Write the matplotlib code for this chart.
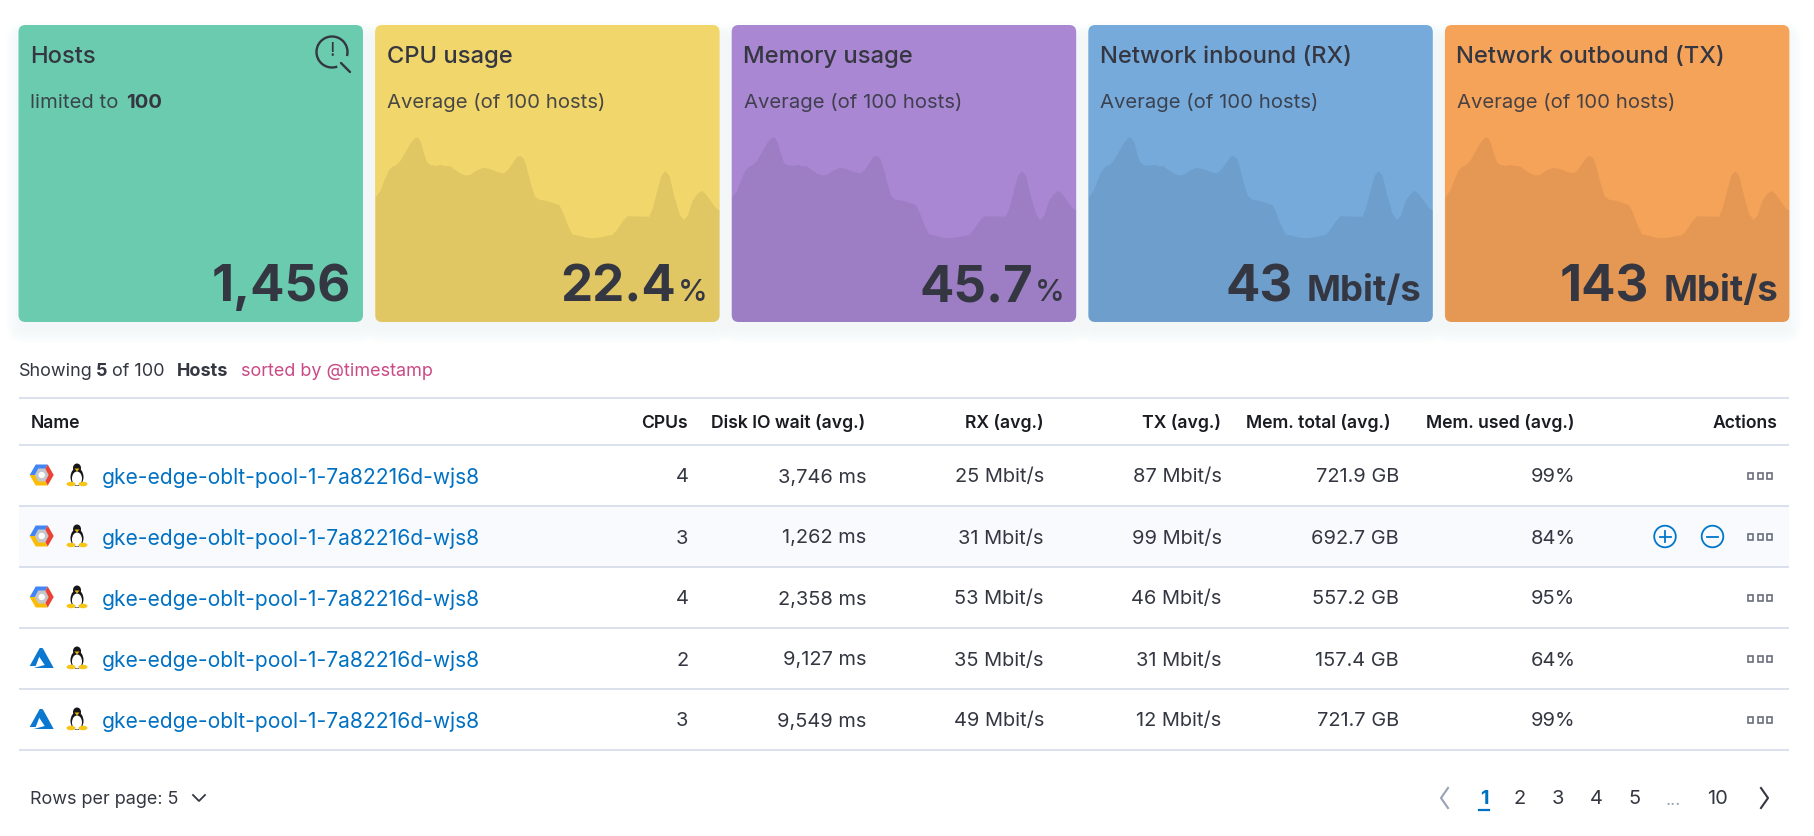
import matplotlib
matplotlib.use("Agg")
import matplotlib.pyplot as plt
from matplotlib.patches import FancyBboxPatch, Circle, Ellipse, Polygon, Arc, Rectangle

W, H = 1814, 836
TEXT = "#343741"
LINK = "#0071C2"
LINE = "#D7DEEA"
plt.rcParams["font.family"] = ["Inter", "DejaVu Sans"]

# tarjetas de arriba
CARD_TITLES = ["Hosts", "CPU usage", "Memory usage", "Network inbound (RX)", "Network outbound (TX)"]
CARD_SUBS = ["limited to", "Average (of 100 hosts)", "Average (of 100 hosts)",
             "Average (of 100 hosts)", "Average (of 100 hosts)"]
CARD_VALUES = ["1,456", "22.4", "45.7", "43", "143"]
CARD_UNITS = ["", "%", "%", "Mbit/s", "Mbit/s"]
CARD_COLORS = ["#6ACBAF", "#F1D66B", "#A987D2", "#76AADB", "#F6A35A"]

# area de fondo, la misma en las cuatro tarjetas (% del ancho y alto de la tarjeta)
SPARK_X = [0, 1.4, 2.5, 3.8, 4.8, 6, 7.2, 8.6, 10.1, 11.4, 12.3, 13.2, 14, 15, 16, 18, 19.8,
           21.7, 23.2, 24.6, 26.1, 27.5, 29.5, 31.4, 33.4, 35.3, 37.2, 38.4, 39.7, 41.1, 42.1,
           43.1, 44, 45, 46.2, 47.4, 49.9, 51.8, 53.3, 54.2, 55.7, 57.1, 59.1, 61.5, 63.4,
           65.9, 68.8, 70.2, 71.7, 73.1, 76, 79.4, 80.4, 81.9, 83, 84.1, 85.3, 86.7, 88.2,
           89.4, 90.6, 92, 93.5, 94.7, 95.9, 97.4, 98.8, 100]
SPARK_Y = [42.1, 44.3, 47.7, 51.1, 52.4, 53, 54.4, 57.2, 60.3, 62.1, 62.3, 60.6, 57.2, 53.9, 53,
           52.7, 52.7, 52.6, 51.3, 50.2, 49.5, 49.7, 51.3, 52.1, 51.6, 50.7, 50.2, 51.3, 53.5,
           55.8, 56.1, 55, 51.6, 47.1, 42.6, 41.4, 40.9, 40.1, 39.6, 37.6, 33.1, 29.7, 29.2,
           28.5, 28.4, 28.8, 29.5, 31.4, 34, 35.8, 35.7, 35.6, 38.2, 44.9, 49.4, 51, 49.4, 42.6,
           36.5, 34.5, 35.9, 41, 43.4, 44.3, 43.2, 40.7, 38.5, 37.6]

# tabla
COLUMNS = ["CPUs", "Disk IO wait (avg.)", "RX (avg.)", "TX (avg.)", "Mem. total (avg.)", "Mem. used (avg.)"]
HOST_NAME = "gke-edge-oblt-pool-1-7a82216d-wjs8"
CLOUDS = ["gcp", "gcp", "gcp", "azure", "azure"]
CPUS = ["4", "3", "4", "2", "3"]
DISK_WAIT = ["3,746 ms", "1,262 ms", "2,358 ms", "9,127 ms", "9,549 ms"]
RX = ["25 Mbit/s", "31 Mbit/s", "53 Mbit/s", "35 Mbit/s", "49 Mbit/s"]
TX = ["87 Mbit/s", "99 Mbit/s", "46 Mbit/s", "31 Mbit/s", "12 Mbit/s"]
MEM_TOTAL = ["721.9 GB", "692.7 GB", "557.2 GB", "157.4 GB", "721.7 GB"]
MEM_USED = ["99%", "84%", "95%", "64%", "99%"]
PAGES = ["2", "3", "4", "5"]


def px(size):
    return size * 72 / 100


fig = plt.figure(figsize=(W / 100, H / 100), dpi=100, facecolor="white")
ax = fig.add_axes([0, 0, 1, 1], zorder=0)
top = fig.add_axes([0, 0, 1, 1], zorder=2)
top.patch.set_alpha(0)
for a in (ax, top):
    a.set_xlim(0, W)
    a.set_ylim(H, 0)
    a.axis("off")


def dibujar_lupa(cx, cy):
    top.add_patch(Arc((cx, cy), 31, 31, theta1=70, theta2=15, color=TEXT, lw=1.7))
    top.plot([cx + 9, cx + 18], [cy + 11, cy + 20], color=TEXT, lw=1.7, solid_capstyle="round")
    top.text(cx, cy - 1, "!", fontsize=px(19), color=TEXT, ha="center", va="center")


def dibujar_gcp(cx, cy):
    # hexagono de colores con centro gris
    forma = [(-12, 0), (-6, -10.5), (6, -10.5), (12, 0), (6, 10.5), (-6, 10.5)]
    pts = [(cx + x, cy + y) for x, y in forma]
    c = (cx, cy)
    top.add_patch(Polygon([pts[0], pts[1], pts[2], c], fc="#4285F4", ec="none"))
    top.add_patch(Polygon([pts[2], pts[3], pts[4], c], fc="#EA4335", ec="none"))
    top.add_patch(Polygon([pts[4], pts[5], pts[0], c], fc="#FBBC05", ec="none"))
    inner = [(cx + x * 0.58, cy + y * 0.62) for x, y in forma]
    top.add_patch(Polygon(inner, fc="#C4C6C9", ec="none"))
    top.add_patch(Circle(c, 3.2, fc="white", ec="none"))


def dibujar_azure(cx, cy):
    blue = "#0A78D1"
    top.add_patch(Polygon([(cx - 12, cy + 8), (cx - 2, cy - 10), (cx + 1, cy - 10), (cx - 6, cy + 8)], fc=blue, ec="none"))
    top.add_patch(Polygon([(cx + 1, cy - 10), (cx + 12, cy + 10), (cx - 8, cy + 10), (cx + 3, cy + 7), (cx - 3, cy - 2)], fc=blue, ec="none"))


def dibujar_tux(cx, cy):
    top.add_patch(Ellipse((cx, cy + 2), 13, 18, fc="#16161A", ec="none"))
    top.add_patch(Ellipse((cx, cy - 7), 8, 9, fc="#16161A", ec="none"))
    top.add_patch(Ellipse((cx, cy + 3.5), 10, 14, fc="white", ec="none"))
    top.add_patch(Polygon([(cx - 2.5, cy - 6.5), (cx + 2.5, cy - 6.5), (cx, cy - 3.5)], fc="#F2B90F", ec="none"))
    top.add_patch(Ellipse((cx - 6, cy + 9), 9, 4.5, fc="#F5C518", ec="none"))
    top.add_patch(Ellipse((cx + 6, cy + 9), 9, 4.5, fc="#F5C518", ec="none"))


# --- tarjetas ---
CARD_W, CARD_TOP, CARD_BOTTOM = 344.5, 25, 322
renderer = fig.canvas.get_renderer()
lefts = [18.5 + i * 356.6 for i in range(5)]

# sombras primero, para que no manchen la tarjeta vecina
for x0 in lefts:
    for k in range(8):
        grow = k * 1.8
        ax.add_patch(FancyBboxPatch((x0 - grow, CARD_TOP + 9 - grow), CARD_W + 2 * grow,
                                    CARD_BOTTOM - CARD_TOP + 2 * grow,
                                    boxstyle=f"round,pad=0,rounding_size={7 + grow}",
                                    fc="#7A8498", ec="none", alpha=0.006))

for i, titulo in enumerate(CARD_TITLES):
    x0 = lefts[i]
    card = FancyBboxPatch((x0, CARD_TOP), CARD_W, CARD_BOTTOM - CARD_TOP,
                          boxstyle="round,pad=0,rounding_size=7", fc=CARD_COLORS[i], ec="none")
    ax.add_patch(card)

    if i > 0:
        sp = fig.add_axes([x0 / W, 1 - CARD_BOTTOM / H, CARD_W / W, (CARD_BOTTOM - CARD_TOP) / H], zorder=1)
        sp.patch.set_alpha(0)
        sp.set_xlim(0, 100)
        sp.set_ylim(0, 100)
        sp.axis("off")
        area = sp.fill_between(SPARK_X, 0, SPARK_Y, color="black", alpha=0.065, lw=0)
        area.set_clip_path(card)

    top.text(x0 + 11.5, 57, titulo, fontsize=px(23.8), color=TEXT, va="center", fontweight="medium")
    top.text(x0 + 12, 103, CARD_SUBS[i], fontsize=px(20.3), color=TEXT, va="center", alpha=0.9)
    if i == 0:
        top.text(126, 103, "100", fontsize=px(20.3), color=TEXT, va="center", fontweight="bold")

    right = x0 + CARD_W - 11.5
    base = 301
    if CARD_UNITS[i]:
        weight = "medium" if CARD_UNITS[i] == "%" else "bold"
        size = 30 if CARD_UNITS[i] == "%" else 36.5
        u = top.text(right, base, CARD_UNITS[i], fontsize=px(size), color=TEXT, ha="right", va="baseline", fontweight=weight)
        right = u.get_window_extent(renderer).x0 - (2 if CARD_UNITS[i] == "%" else 14)
    top.text(right, base, CARD_VALUES[i], fontsize=px(51), color=TEXT, ha="right", va="baseline", fontweight="bold")

dibujar_lupa(332, 52)

# --- linea de estado ---
y = 371.5
top.text(18.5, y, "Showing", fontsize=px(18), color=TEXT, va="center")
top.text(96, y, "5", fontsize=px(18), color=TEXT, va="center", fontweight="bold")
top.text(112, y, "of 100", fontsize=px(18), color=TEXT, va="center")
top.text(177, y, "Hosts", fontsize=px(18), color=TEXT, va="center", fontweight="bold")
top.text(241, y, "sorted by @timestamp", fontsize=px(18), color="#CB4A86", va="center")

# --- tabla ---
X_LEFT, X_RIGHT = 18.5, 1789
LINES_Y = [398, 444.5, 505.5, 566.5, 627.5, 688.5, 749.5]
ROWS_Y = [475.5, 536.5, 597.5, 658.5, 719.5]
COL_HEAD_X = [687.5, 865.5, 1044, 1221.5, 1391, 1574]
COL_VAL_X = [688.5, 866.5, 1044, 1221.5, 1399, 1575.5]
ax.add_patch(Rectangle((X_LEFT, LINES_Y[2]), X_RIGHT - X_LEFT, LINES_Y[3] - LINES_Y[2], fc="#F8FAFD", ec="none"))
for ly in LINES_Y:
    ax.plot([X_LEFT, X_RIGHT], [ly, ly], color=LINE, lw=1.3, solid_capstyle="butt")

head_y = 423
top.text(30.5, head_y, "Name", fontsize=px(17.6), color="#1A1C21", va="center", fontweight="semibold")
for nombre, hx in zip(COLUMNS, COL_HEAD_X):
    top.text(hx, head_y, nombre, fontsize=px(17.6), color="#1A1C21", va="center", ha="right", fontweight="semibold")
top.text(1777, head_y, "Actions", fontsize=px(17.6), color="#1A1C21", va="center", ha="right", fontweight="semibold")

columnas = [CPUS, DISK_WAIT, RX, TX, MEM_TOTAL, MEM_USED]
for r, ry in enumerate(ROWS_Y):
    if CLOUDS[r] == "gcp":
        dibujar_gcp(41.7, ry - 0.5)
    else:
        dibujar_azure(41.7, ry - 0.5)
    dibujar_tux(77, ry - 0.5)
    top.text(102, ry + 2, HOST_NAME, fontsize=px(21), color=LINK, va="center")
    for col, vx in zip(columnas, COL_VAL_X):
        top.text(vx, ry + 2, col[r], fontsize=px(20), color=TEXT, va="center", ha="right")
    # botones de acciones
    for bx in (1750.5, 1760, 1769.5):
        top.add_patch(Rectangle((bx - 2.5, ry - 3), 5, 6, fc="none", ec="#69707D", lw=1.2))

# fila con hover: botones + y -
for bx, signo in ((1665, "+"), (1712.5, "-")):
    ry = ROWS_Y[1]
    top.add_patch(Circle((bx, ry), 10.8, fc="none", ec="#0077CC", lw=1.3))
    top.plot([bx - 5.5, bx + 5.5], [ry, ry], color="#0077CC", lw=1.3)
    if signo == "+":
        top.plot([bx, bx], [ry - 5.5, ry + 5.5], color="#0077CC", lw=1.3)

# --- paginacion ---
y = 799.5
top.text(30.5, y, "Rows per page: 5", fontsize=px(18), color=TEXT, va="center")
top.plot([193, 199, 205], [795, 801, 795], color=TEXT, lw=1.3)
top.plot([1448, 1441, 1448], [788, 798, 808], color="#98A2B3", lw=1.5)
top.plot([1761, 1768, 1761], [788, 798, 808], color=TEXT, lw=1.5)
top.text(1484, y, "1", fontsize=px(20), color=LINK, ha="center", va="center", fontweight="bold")
top.plot([1479, 1489], [810, 810], color=LINK, lw=1.6)
for etiqueta, px_x in zip(PAGES, [1520, 1558, 1596, 1634]):
    top.text(px_x, y, etiqueta, fontsize=px(20), color=TEXT, ha="center", va="center")
top.text(1673, y + 1, "...", fontsize=px(18), color="#98A2B3", ha="center", va="center")
top.text(1718, y, "10", fontsize=px(20), color=TEXT, ha="center", va="center")

fig.savefig("out.png", dpi=100)
